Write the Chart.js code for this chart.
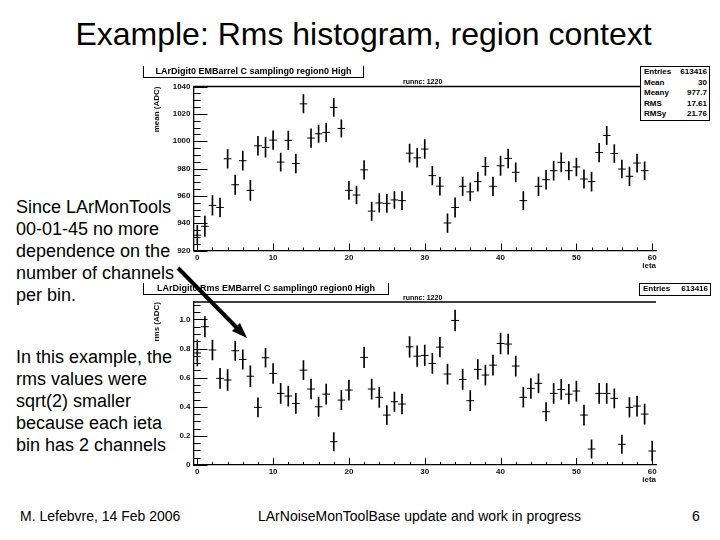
<!DOCTYPE html>
<html>
<head>
<meta charset="utf-8">
<script src="https://cdn.jsdelivr.net/npm/chart.js@4.4.0/dist/chart.umd.min.js"></script>
<style>
body { margin: 0; background: #fff; }
#slide { position: relative; width: 720px; height: 540px; overflow: hidden; font-family: "Liberation Sans", Arial, sans-serif; color: #000; }
.abs { position: absolute; white-space: nowrap; }
#title { left: 0; width: 727px; top: 16px; text-align: center; font-size: 32px; line-height: 36px; }
.side { left: 16px; font-size: 18px; line-height: 22px; }
.foot { top: 508px; font-size: 14px; line-height: 16px; }
.htitle { border: 1px solid #000; border-top: none; font-size: 9px; font-weight: bold; text-align: center; line-height: 11px; }
.runno { font-size: 7px; font-weight: bold; }
.stats { border: 1px solid #000; background: #fff; font-size: 8px; font-weight: bold; }
.stats div { display: flex; justify-content: space-between; padding: 0 2px 0 3px; height: 10.6px; line-height: 10.6px; }
canvas { position: absolute; }
</style>
</head>
<body>
<div id="slide">
  <div class="abs" id="title">Example: Rms histogram, region context</div>
  <div class="abs side" style="top:196px">Since LArMonTools<br>00-01-45 no more<br>dependence on the<br>number of channels<br>per bin.</div>
  <div class="abs side" style="top:346px">In this example, the<br>rms values were<br>sqrt(2) smaller<br>because each ieta<br>bin has 2 channels</div>
  <div class="abs foot" style="left:20px">M. Lefebvre, 14 Feb 2006</div>
  <div class="abs foot" style="left:258px">LArNoiseMonToolBase update and work in progress</div>
  <div class="abs foot" style="left:692px">6</div>

  <canvas id="meanCnvs" width="580" height="215" style="left:140px;top:60px"></canvas>
  <canvas id="rmsCnvs" width="580" height="215" style="left:140px;top:280px"></canvas>

  <div class="abs htitle" style="left:143px;top:66px;width:219px;height:11px">LArDigit0 EMBarrel C sampling0 region0 High</div>
  <div class="abs runno" style="left:403px;top:78px">runnc: 1220</div>
  <div class="abs stats" style="left:640px;top:66px;width:68px;height:53px">
    <div><span>Entries</span><span>613416</span></div>
    <div><span>Mean</span><span>30</span></div>
    <div><span>Meany</span><span>977.7</span></div>
    <div><span>RMS</span><span>17.61</span></div>
    <div><span>RMSy</span><span>21.76</span></div>
  </div>

  <div class="abs htitle" style="left:143px;top:283px;width:244px;height:11px">LArDigit0 Rms EMBarrel C sampling0 region0 High</div>
  <div class="abs runno" style="left:403px;top:294px">runnc: 1220</div>
  <div class="abs stats" style="left:639px;top:283px;width:70px;height:10.6px">
    <div><span>Entries</span><span>613416</span></div>
  </div>

  <svg class="abs" style="left:0;top:0" width="720" height="540">
    <line x1="178" y1="268" x2="238" y2="329" stroke="#000" stroke-width="4"/>
    <polygon points="247,338 232,331 240,323" fill="#000"/>
  </svg>
</div>

<script>
// ieta bins, shared by both histograms
var ieta = [0,1,2,3,4,5,6,7,8,9,10,11,12,13,14,15,16,17,18,19,20,21,22,23,24,25,26,27,28,29,
            30,31,32,33,34,35,36,37,38,39,40,41,42,43,44,45,46,47,48,49,50,51,52,53,54,55,56,57,58,59,60];

// mean (ADC) per ieta bin, null = no entry
var meanValues = [931.2,937.7,953.0,951.5,987.1,968.1,985.7,964.0,996.6,995.4,
                  1000.8,984.7,1000.6,983.7,1027.3,1002.3,1005.4,1006.4,1024.7,1009.3,
                  964.0,960.6,979.0,948.8,954.8,954.5,957.0,956.5,991.2,987.8,
                  994.2,974.8,967.1,940.1,951.5,967.0,962.9,970.4,981.5,967.0,
                  982.0,987.4,977.2,956.5,null,967.0,971.8,978.4,984.5,978.4,
                  981.1,972.3,970.4,991.7,1004.2,991.0,979.6,974.3,984.0,978.4,null];
var meanErrors = [7.2,7.4,7.1,6.9,6.8,7.1,7.0,7.3,6.9,7.2,
                  6.8,6.6,6.8,6.9,6.7,6.8,6.4,6.8,6.6,6.4,
                  6.7,6.6,6.8,6.7,6.8,6.6,6.3,6.6,6.6,6.9,
                  6.9,6.8,6.6,6.8,7.1,6.8,6.6,6.9,6.6,6.8,
                  7.0,6.9,7.0,6.6,null,6.8,6.9,6.9,7.0,6.7,
                  6.6,6.7,6.9,6.8,6.7,6.5,6.5,6.8,6.6,6.5,null];

// rms (ADC) per ieta bin
var rmsValues = [0.77,0.95,0.79,0.595,0.584,0.785,0.725,0.61,0.396,0.737,
                 0.629,0.492,0.474,0.423,0.652,0.522,0.40,0.487,0.16,0.446,
                 0.515,null,0.739,0.522,0.465,0.343,0.435,0.419,0.812,0.748,
                 0.753,0.698,0.81,0.625,0.993,0.588,0.442,0.657,0.618,0.686,
                 0.835,0.831,0.68,0.465,0.526,0.561,0.366,0.492,0.519,0.487,
                 0.508,0.343,0.11,0.492,0.492,0.458,0.142,0.396,0.405,0.35,0.096];
var rmsErrors = [0.09,0.07,0.068,0.069,0.072,0.066,0.066,0.071,0.066,0.065,
                 0.068,0.069,0.069,0.069,0.066,0.068,0.066,0.069,0.063,0.065,
                 0.069,null,0.071,0.069,0.069,0.065,0.066,0.068,0.071,0.071,
                 0.071,0.069,0.068,0.069,0.071,0.069,0.069,0.068,0.069,0.069,
                 0.071,0.069,0.069,0.068,0.068,0.066,0.063,0.069,0.069,0.068,
                 0.069,0.069,0.063,0.069,0.069,0.065,0.063,0.068,0.069,0.069,0.068];

var rootFont = { family: 'Liberation Sans', size: 8, weight: 'bold' };

function isStep(v, step) {
  var r = v / step;
  return Math.abs(r - Math.round(r)) < 1e-6;
}

// ROOT style frame: top line and inward tick marks
var rootFrame = {
  id: 'rootFrame',
  afterDraw: function(chart, args, opts) {
    var ctx = chart.ctx;
    var area = chart.chartArea;
    var xs = chart.scales.x, ys = chart.scales.y;
    ctx.save();
    ctx.strokeStyle = '#000';
    ctx.lineWidth = 1.4;
    ctx.beginPath();
    ctx.moveTo(area.left, area.top);
    ctx.lineTo(area.right, area.top);
    ctx.stroke();
    ctx.lineWidth = 1;
    ctx.beginPath();
    xs.ticks.forEach(function(t) {
      if (!isStep(t.value, 2)) return;
      var px = Math.round(xs.getPixelForValue(t.value)) + 0.5;
      var len = isStep(t.value, 10) ? 7 : 3;
      ctx.moveTo(px, area.bottom);
      ctx.lineTo(px, area.bottom - len);
    });
    ys.ticks.forEach(function(t) {
      if (!isStep(t.value, opts.minor)) return;
      var py = Math.round(ys.getPixelForValue(t.value)) + 0.5;
      var len = isStep(t.value, opts.major) ? 14 : 7;
      ctx.moveTo(area.left, py);
      ctx.lineTo(area.left + len, py);
    });
    ctx.stroke();
    ctx.restore();
  }
};

function makeHist(canvasId, values, errors, yMin, yMax, minor, major, yTitle, fmt, pad) {
  var bars = [], marks = [];
  for (var i = 0; i < ieta.length; i++) {
    if (values[i] === null) continue;
    bars.push({ x: ieta[i], y: [values[i] - errors[i], values[i] + errors[i]] });
    marks.push({ x: ieta[i], y: values[i] });
  }
  return new Chart(document.getElementById(canvasId), {
    type: 'scatter',
    data: {
      datasets: [{
        type: 'bar',
        data: bars,
        backgroundColor: '#000',
        borderWidth: 0,
        barThickness: 1
      }, {
        type: 'scatter',
        data: marks,
        pointStyle: 'line',
        pointRadius: 3.8,
        pointBorderWidth: 1,
        pointBorderColor: '#000',
        pointBackgroundColor: '#000'
      }]
    },
    options: {
      responsive: false,
      animation: false,
      devicePixelRatio: 1,
      layout: { padding: pad },
      plugins: {
        legend: { display: false },
        tooltip: { enabled: false },
        rootFrame: { minor: minor, major: major }
      },
      scales: {
        x: {
          type: 'linear',
          min: -0.5,
          max: 60.5,
          offset: false,
          grid: { display: false, drawTicks: false },
          border: { display: true, color: '#000', width: 1.3 },
          ticks: {
            stepSize: 2,
            includeBounds: false,
            autoSkip: false,
            maxRotation: 0,
            padding: 2,
            color: '#111',
            font: rootFont,
            callback: function(v) { return isStep(v, 10) ? String(v) : ''; }
          },
          title: { display: true, text: 'ieta', align: 'end', color: '#111', font: rootFont, padding: 0 },
          afterFit: function(s) { s.height = 20; }
        },
        y: {
          type: 'linear',
          min: yMin,
          max: yMax,
          grid: { display: false, drawTicks: false },
          border: { display: true, color: '#000', width: 1.3 },
          ticks: {
            stepSize: minor,
            includeBounds: false,
            autoSkip: false,
            padding: 3,
            color: '#111',
            font: rootFont,
            callback: function(v) { return isStep(v, major) ? fmt(v) : ''; }
          },
          title: { display: true, text: yTitle, align: 'end', color: '#111', font: rootFont, padding: { top: 2, bottom: 0 } },
          afterFit: function(s) { s.width = 43.5; }
        }
      }
    },
    plugins: [rootFrame]
  });
}

var meanChart = makeHist('meanCnvs', meanValues, meanErrors, 920, 1040, 5, 20, 'mean (ADC)',
  function(v) { return String(Math.round(v)); },
  { left: 10, top: 26.5, right: 64, bottom: 4.5 });

var rmsChart = makeHist('rmsCnvs', rmsValues, rmsErrors, 0, 1.12, 0.05, 0.2, 'rms (ADC)',
  function(v) { return Math.abs(v) < 1e-9 ? '0' : v.toFixed(1); },
  { left: 10, top: 22, right: 64, bottom: 10 });
</script>
</body>
</html>
